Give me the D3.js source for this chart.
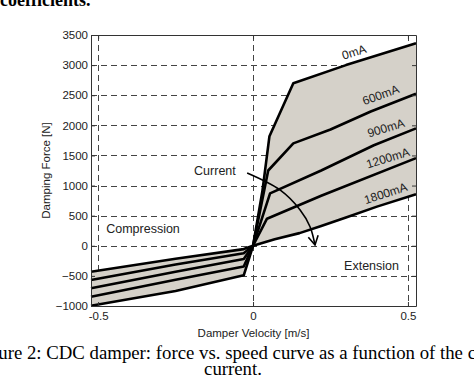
<!DOCTYPE html>
<html>
<head>
<meta charset="utf-8">
<script src="https://cdn.jsdelivr.net/npm/d3@7"></script>
<style>
	body { margin: 0; background: #fff; }
	svg { display: block; }
</style>
</head>
<body>
<div id="chart"></div>
<script>
// damper curves, [velocity m/s, force N]
const currents = ['0mA', '600mA', '900mA', '1200mA', '1800mA'];
const curve0mA = [[-0.523, -995], [-0.25, -750], [-0.03, -490], [0, 0], [0.03, 900], [0.053, 1820], [0.13, 2700], [0.3, 3000], [0.526, 3364]];
const curve600mA = [[-0.523, -845], [-0.25, -565], [-0.03, -345], [0, 0], [0.049, 1250], [0.13, 1700], [0.25, 1930], [0.38, 2230], [0.526, 2525]];
const curve900mA = [[-0.523, -706], [-0.25, -430], [-0.03, -220], [0, 0], [0.055, 870], [0.22, 1250], [0.39, 1670], [0.526, 1950]];
const curve1200mA = [[-0.523, -568], [-0.25, -310], [-0.03, -125], [0, 0], [0.045, 450], [0.22, 830], [0.526, 1455]];
const curve1800mA = [[-0.523, -430], [-0.25, -215], [-0.03, -55], [0, 0], [0.07, 110], [0.15, 210], [0.22, 330], [0.3, 470], [0.4, 650], [0.526, 855]];

const xTicks = [-0.5, 0, 0.5];
const yTicks = [-1000, -500, 0, 500, 1000, 1500, 2000, 2500, 3000, 3500];
const yGrid = [-500, 0, 500, 1000, 1500, 2000, 2500, 3000];

// annotation anchors in data units
const labelPos = [[0.326, 3218], [0.412, 2505], [0.429, 1957], [0.435, 1459], [0.428, 872]];
const labelAngle = [-18, -20, -17, -17, -18];
const arrowPath = [[-0.019, 1209], [0.087, 927], [0.152, 595], [0.184, 317], [0.2, 13]];
const currentLabel = [-0.123, 1242];
const compressionLabel = [-0.474, 212];
const extensionLabel = [0.294, -400];

const curves = [curve0mA, curve600mA, curve900mA, curve1200mA, curve1800mA];

var W = 474, H = 391;
var margin = { left: 91, top: 35, right: 58, bottom: 85 };
var width = W - margin.left - margin.right;
var height = H - margin.top - margin.bottom;
var serif = '"Liberation Serif", "Times New Roman", serif';

var svgRoot = d3.select('#chart').append('svg').attr('width', W).attr('height', H);

// bits of the surrounding paper text
svgRoot.append('text')
	.attr('x', 0).attr('y', 6)
	.style('font-family', serif)
	.style('font-size', '18px')
	.style('font-weight', 'bold')
	.text('coefficients.');

svgRoot.append('text')
	.attr('x', 234.5).attr('y', 359)
	.attr('text-anchor', 'middle')
	.style('font-family', serif)
	.style('font-size', '18.8px')
	.text('Figure 2: CDC damper: force vs. speed curve as a function of the coil');

svgRoot.append('text')
	.attr('x', 233).attr('y', 375)
	.attr('text-anchor', 'middle')
	.style('font-family', serif)
	.style('font-size', '18.8px')
	.text('current.');

var svg = svgRoot.append('g')
	.attr('transform', 'translate(' + margin.left + ',' + margin.top + ')')
	.style('font-family', '"Liberation Sans", Arial, sans-serif');

var x = d3.scaleLinear().domain([-0.523, 0.526]).range([0, width]);
var y = d3.scaleLinear().domain([-1000, 3500]).range([height, 0]);

// dashed grid
var grid = svg.append('g')
	.style('stroke', '#444')
	.style('stroke-width', 1)
	.style('stroke-dasharray', '6,4');
grid.selectAll('line.h')
	.data(yGrid)
	.enter()
	.append('line')
	.attr('class', 'h')
	.attr('x1', 0).attr('x2', width)
	.attr('y1', function (d) { return Math.round(y(d)) + 0.5; })
	.attr('y2', function (d) { return Math.round(y(d)) + 0.5; });
grid.selectAll('line.v')
	.data(xTicks)
	.enter()
	.append('line')
	.attr('class', 'v')
	.attr('y1', 0).attr('y2', height)
	.attr('x1', function (d) { return Math.round(x(d)) + 0.5; })
	.attr('x2', function (d) { return Math.round(x(d)) + 0.5; });

var line = d3.line()
	.x(function (d) { return x(d[0]); })
	.y(function (d) { return y(d[1]); });

// grey band between the hardest and softest setting
svg.append('path')
	.datum(curve0mA.concat(curve1800mA.slice().reverse()))
	.attr('d', line)
	.style('fill', '#d5d1c9')
	.style('stroke', 'none');

svg.append('g')
	.selectAll('path')
	.data(curves)
	.enter()
	.append('path')
	.attr('d', line)
	.style('fill', 'none')
	.style('stroke', '#000')
	.style('stroke-width', 2.6)
	.style('stroke-linejoin', 'round');

// axes, ticks pointing inward like matlab
var axisStyle = function (g) {
	g.selectAll('path, line').style('stroke', '#333');
	g.selectAll('text').style('fill', '#222').style('font-size', '11.5px').style('font-family', '"Liberation Sans", Arial, sans-serif');
};

svg.append('g')
	.call(d3.axisLeft(y).tickValues(yTicks).tickSize(-4).tickSizeOuter(0).tickPadding(3).tickFormat(d3.format('d')))
	.call(axisStyle);
svg.append('g')
	.attr('transform', 'translate(0,' + height + ')')
	.call(d3.axisBottom(x).tickValues(xTicks).tickSize(-4).tickSizeOuter(0).tickPadding(6).tickFormat(function (d) { return d === 0 ? '0' : d; }))
	.call(axisStyle);
svg.append('g')
	.attr('transform', 'translate(' + width + ',0)')
	.call(d3.axisRight(y).tickValues(yTicks).tickSize(-4).tickSizeOuter(0).tickFormat(''))
	.call(axisStyle);
svg.append('g')
	.call(d3.axisTop(x).tickValues(xTicks).tickSize(-4).tickSizeOuter(0).tickFormat(''))
	.call(axisStyle);

// curve labels
svg.selectAll('text.curveLabel')
	.data(currents)
	.enter()
	.append('text')
	.attr('class', 'curveLabel')
	.attr('text-anchor', 'middle')
	.attr('dy', '0.35em')
	.attr('transform', function (d, i) {
		return 'translate(' + x(labelPos[i][0]) + ',' + y(labelPos[i][1]) + ') rotate(' + labelAngle[i] + ')';
	})
	.style('font-size', '12px')
	.style('fill', '#222')
	.text(function (d) { return d; });

// "Current" arrow
svgRoot.append('defs').append('marker')
	.attr('id', 'arrowHead')
	.attr('viewBox', '-1 -6 12 12')
	.attr('refX', 9).attr('refY', 0)
	.attr('markerWidth', 12).attr('markerHeight', 12)
	.attr('markerUnits', 'userSpaceOnUse')
	.attr('orient', 'auto')
	.append('path')
	.attr('d', 'M0,-5L9,0L0,5')
	.style('fill', 'none')
	.style('stroke', '#000')
	.style('stroke-width', 1.6);

svg.append('path')
	.datum(arrowPath)
	.attr('d', line.curve(d3.curveCatmullRom))
	.style('fill', 'none')
	.style('stroke', '#000')
	.style('stroke-width', 1.6)
	.attr('marker-end', 'url(#arrowHead)');

svg.append('text')
	.attr('x', x(currentLabel[0])).attr('y', y(currentLabel[1]))
	.attr('text-anchor', 'middle').attr('dy', '0.35em')
	.style('font-size', '12.5px').style('fill', '#222')
	.text('Current');

svg.append('text')
	.attr('x', x(compressionLabel[0])).attr('y', y(compressionLabel[1]))
	.style('font-size', '12.5px').style('fill', '#222')
	.text('Compression');

svg.append('text')
	.attr('x', x(extensionLabel[0])).attr('y', y(extensionLabel[1]))
	.style('font-size', '12.5px').style('fill', '#222')
	.text('Extension');

// axis titles
svg.append('text')
	.attr('x', width / 2).attr('y', height + 31)
	.attr('text-anchor', 'middle')
	.style('font-size', '11.5px').style('fill', '#222')
	.text('Damper Velocity  [m/s]');

svg.append('text')
	.attr('transform', 'translate(' + (-41) + ',' + (height / 2) + ') rotate(-90)')
	.attr('text-anchor', 'middle')
	.style('font-size', '11.5px').style('fill', '#222')
	.text('Damping Force  [N]');
</script>
</body>
</html>
